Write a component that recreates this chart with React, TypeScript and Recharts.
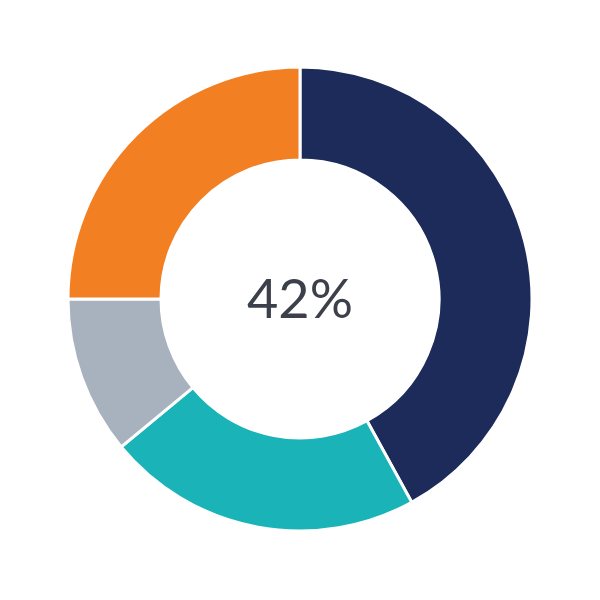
import { Cell, Pie, PieChart } from "recharts";

const segments = ["Navy", "Teal", "Gray", "Orange"];
const shares = [42, 22, 11, 25];
const colors = ["#1c2b5a", "#1ab4b8", "#a8b2bf", "#f27f22"];
const centerLabel = "42%";

const data = segments.map((name, i) => ({ name, value: shares[i] }));

export default function App() {
  return (
    <div style={{ position: "absolute", left: 0, top: 0, width: 600, height: 600, background: "#fff" }}>
      <PieChart width={600} height={600} margin={{ top: 0, right: 0, bottom: 0, left: 0 }}>
        <Pie
          data={data}
          dataKey="value"
          nameKey="name"
          cx={300}
          cy={299}
          innerRadius={139}
          outerRadius={232}
          startAngle={90}
          endAngle={-270}
          stroke="#ffffff"
          strokeWidth={3}
          isAnimationActive={false}
        >
          {data.map((d, i) => (
            <Cell key={d.name} fill={colors[i]} />
          ))}
        </Pie>
        <text
          x={300}
          y={297}
          textAnchor="middle"
          dominantBaseline="central"
          style={{ fontFamily: "Lato, 'Open Sans', sans-serif", fontSize: 54, fill: "#3b404b" }}
        >
          {centerLabel}
        </text>
      </PieChart>
    </div>
  );
}
